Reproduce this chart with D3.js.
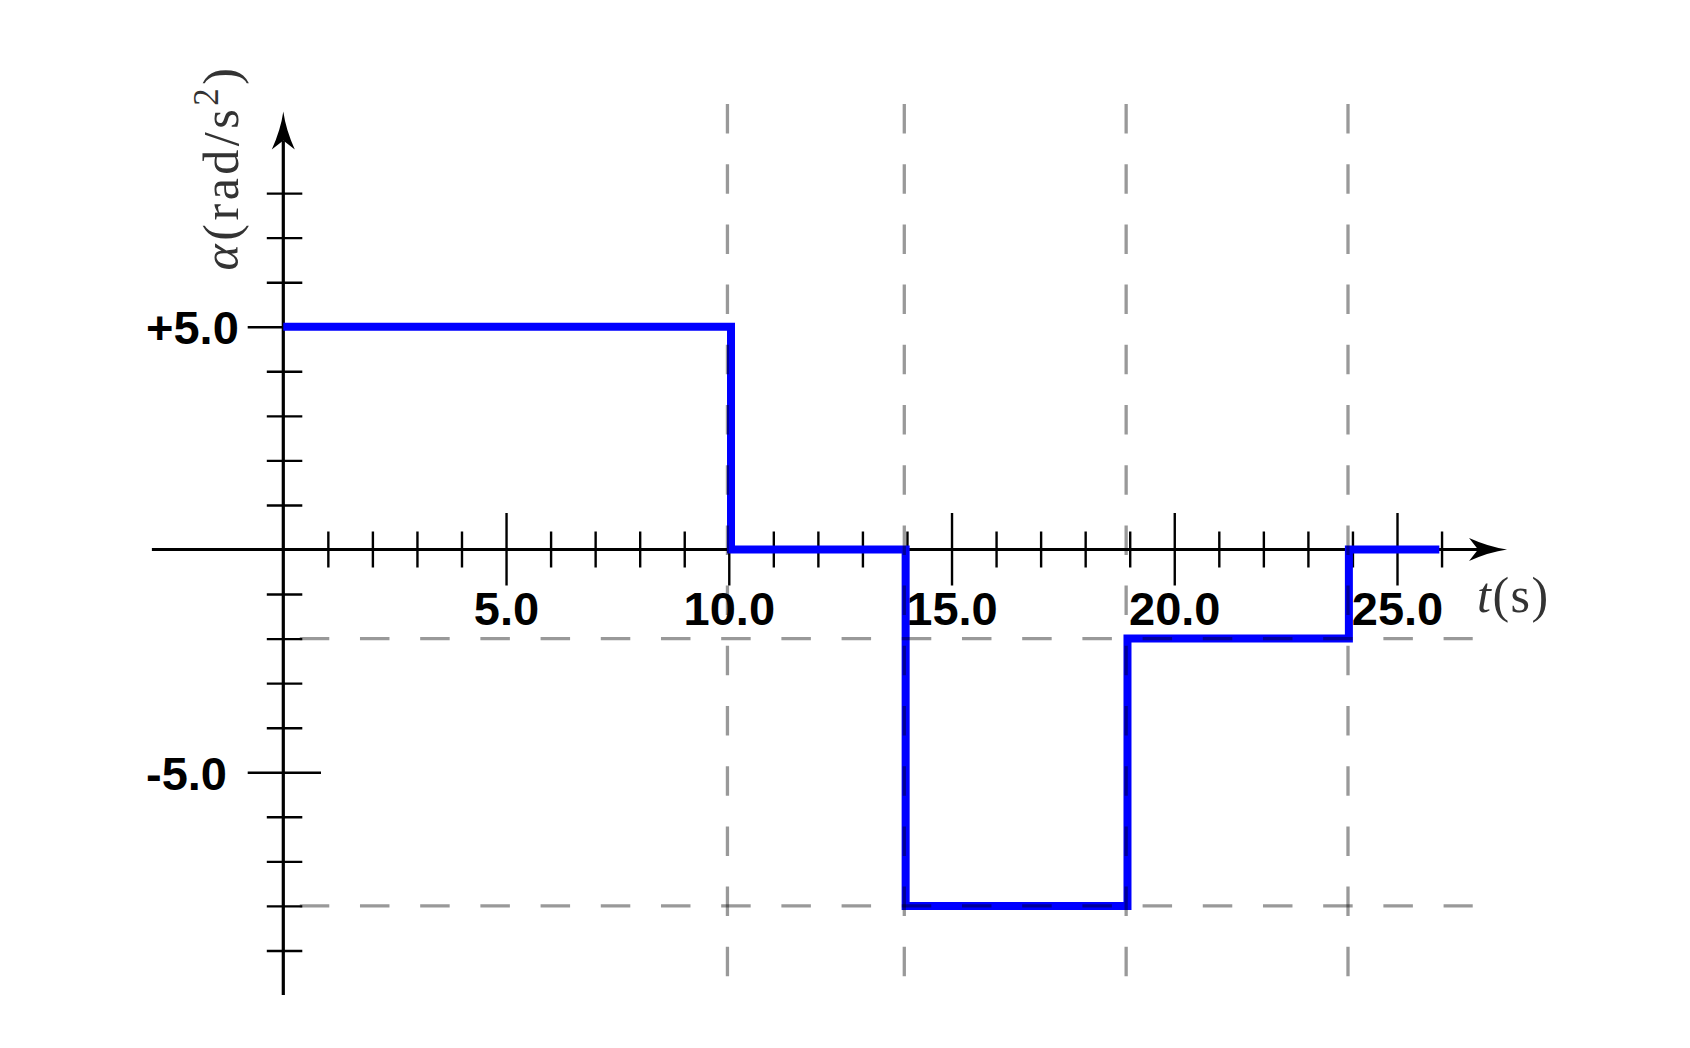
<!DOCTYPE html>
<html>
<head>
<meta charset="utf-8">
<script src="https://cdn.jsdelivr.net/npm/d3@7"></script>
<style>
  body { margin: 0; background: #fff; }
  svg { display: block; }
</style>
</head>
<body>
<svg id="chart" width="1690" height="1048"></svg>
<script>
// step edges in seconds, and alpha (rad/s^2) on each interval
var stepTimes = [0, 10.05, 13.97, 18.95, 23.92, 25.95];
var alphaValues = [5, 0, -8, -2, 0];

// dashed guide lines
var guideTimes = [9.97, 13.94, 18.92, 23.9];
var guideAlphas = [-2, -8];

// ticks
var xMajor = [5, 10, 15, 20, 25];
var xLabels = ["5.0", "10.0", "15.0", "20.0", "25.0"];
var xMinor = [1, 2, 3, 4, 6, 7, 8, 9, 11, 12, 13, 14, 16, 17, 18, 19, 21, 22, 23, 24, 26];
var yMajor = [5, -5];
var yLabels = ["+5.0", "-5.0"];
var yMinor = [8, 7, 6, 4, 3, 2, 1, -1, -2, -3, -4, -6, -7, -8, -9];

var svg = d3.select("#chart");

var x = d3.scaleLinear().domain([0, 25]).range([283.3, 1397]);
var y = d3.scaleLinear().domain([-10, 10]).range([995, 104]);

// arrow head pointing to +x, tip at 0,0
var arrow = "M0,0 Q-18,-2.5 -38,-11.5 L-29,0 L-38,11.5 Q-18,2.5 0,0 Z";

// ---- x axis
var xg = svg.append("g").attr("transform", "translate(0," + y(0) + ")");
xg.append("line")
  .attr("x1", x(-2.95)).attr("x2", x(27.47) - 29)
  .attr("stroke", "#000").attr("stroke-width", 3.2);
xg.append("path").attr("d", arrow)
  .attr("transform", "translate(" + x(27.47) + ",0)")
  .attr("fill", "#000");

var xMinorG = xg.append("g").call(d3.axisBottom(x).tickValues(xMinor).tickFormat(""));
xMinorG.select(".domain").remove();
xMinorG.selectAll(".tick line").attr("y1", -18).attr("y2", 18)
  .attr("stroke", "#000").attr("stroke-width", 2.4);

var xMajorG = xg.append("g").call(d3.axisBottom(x).tickValues(xMajor).tickFormat(function(d, i){ return xLabels[i]; }));
xMajorG.select(".domain").remove();
xMajorG.selectAll(".tick line").attr("y1", -36.5).attr("y2", 36)
  .attr("stroke", "#000").attr("stroke-width", 2.4);
xMajorG.selectAll(".tick text")
  .attr("y", 75.5).attr("dy", null)
  .attr("fill", "#000")
  .style("font-family", "'Liberation Sans', Arial, sans-serif")
  .style("font-weight", "bold")
  .style("font-size", "47px");

// ---- y axis
var yg = svg.append("g").attr("transform", "translate(" + x(0) + ",0)");
yg.append("line")
  .attr("y1", y(-10)).attr("y2", y(9.83) + 29)
  .attr("stroke", "#000").attr("stroke-width", 3.2);
yg.append("path").attr("d", arrow)
  .attr("transform", "translate(0," + y(9.83) + ") rotate(-90)")
  .attr("fill", "#000");

var yMinorG = yg.append("g").call(d3.axisLeft(y).tickValues(yMinor).tickFormat(""));
yMinorG.select(".domain").remove();
yMinorG.selectAll(".tick line").attr("x1", -16.5).attr("x2", 19)
  .attr("stroke", "#000").attr("stroke-width", 2.4);

var yMajorG = yg.append("g").call(d3.axisLeft(y).tickValues(yMajor).tickFormat(function(d, i){ return yLabels[i]; }));
yMajorG.select(".domain").remove();
yMajorG.selectAll(".tick line").attr("x1", -35.6).attr("x2", 37.7)
  .attr("stroke", "#000").attr("stroke-width", 2.4);
yMajorG.selectAll(".tick text")
  .attr("x", 146 - x(0)).attr("dy", null).attr("y", 17)
  .attr("text-anchor", "start")
  .attr("fill", "#000")
  .style("font-family", "'Liberation Sans', Arial, sans-serif")
  .style("font-weight", "bold")
  .style("font-size", "47px");

// ---- step curve
var pts = stepTimes.map(function(t, i){
  return { t: t, a: alphaValues[Math.min(i, alphaValues.length - 1)] };
});
var line = d3.line()
  .x(function(d){ return x(d.t); })
  .y(function(d){ return y(d.a); })
  .curve(d3.curveStepAfter);

svg.append("path").datum(pts)
  .attr("d", line)
  .attr("fill", "none")
  .attr("stroke", "#0000ff")
  .attr("stroke-width", 8)
  .attr("stroke-linejoin", "miter");

// ---- dashed guides (drawn over the curve, see-through)
svg.append("g").selectAll("line").data(guideTimes).enter().append("line")
  .attr("x1", function(d){ return x(d); }).attr("x2", function(d){ return x(d); })
  .attr("y1", y(10)).attr("y2", y(-9.6))
  .attr("stroke", "#000").attr("stroke-opacity", 0.4)
  .attr("stroke-width", 3.3)
  .attr("stroke-dasharray", "29.5,30.7");

svg.append("g").selectAll("line").data(guideAlphas).enter().append("line")
  .attr("x1", x(0.37)).attr("x2", x(26.7))
  .attr("y1", function(d){ return y(d); }).attr("y2", function(d){ return y(d); })
  .attr("stroke", "#000").attr("stroke-opacity", 0.4)
  .attr("stroke-width", 3.3)
  .attr("stroke-dasharray", "29.5,30.7");

// ---- axis titles
var yTitle = svg.append("text")
  .attr("transform", "translate(238,167.5) rotate(-90)")
  .attr("text-anchor", "middle")
  .attr("fill", "#333")
  .style("font-family", "'Liberation Serif', 'Times New Roman', serif")
  .style("font-size", "50px")
  .style("letter-spacing", "3.5px");
yTitle.append("tspan").style("font-style", "italic").text("α");
yTitle.append("tspan").text("(rad/s");
yTitle.append("tspan").attr("dy", -20).style("font-size", "35px").text("2");
yTitle.append("tspan").attr("dy", 20).text(")");

var xTitle = svg.append("text")
  .attr("x", 1477).attr("y", 611.7)
  .attr("fill", "#333")
  .style("font-family", "'Liberation Serif', 'Times New Roman', serif")
  .style("font-size", "50px")
  .style("letter-spacing", "1.5px");
xTitle.append("tspan").style("font-style", "italic").text("t");
xTitle.append("tspan").text("(s)");
</script>
</body>
</html>
